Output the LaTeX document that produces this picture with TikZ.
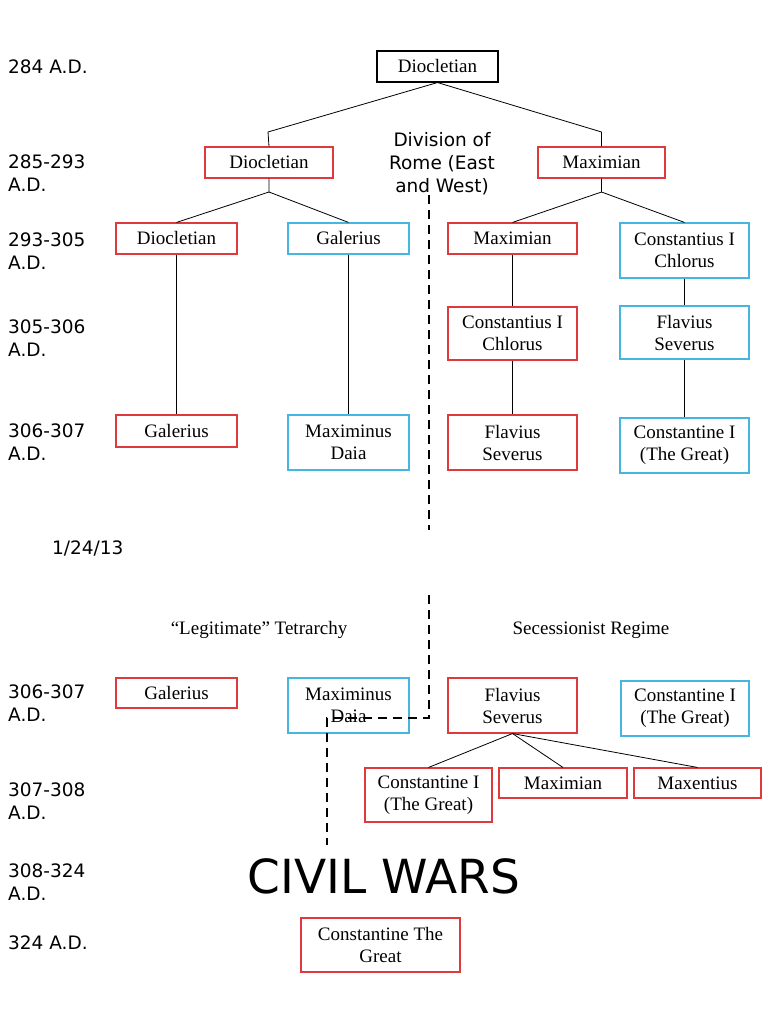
\documentclass[tikz,border=0pt]{standalone}
\usepackage{fontspec}
\setmainfont{Liberation Serif}
\newfontfamily\dejavu{DejaVu Sans}
\definecolor{redb}{RGB}{222,58,62}
\definecolor{cyanb}{RGB}{70,182,222}
\tikzset{
  box/.style={draw, line width=1.1pt, inner sep=0pt, align=center,
    font=\fontsize{19}{22}\selectfont},
  rbox/.style={box, draw=redb},
  cbox/.style={box, draw=cyanb},
  kbox/.style={box, draw=black},
  yr/.style={anchor=west, inner sep=0pt, align=left,
    font=\dejavu\fontsize{18.5}{23}\selectfont},
  conn/.style={draw=black, line width=0.8pt},
  dline/.style={draw=black, line width=1.8pt, dash pattern=on 9pt off 6pt},
  lbl/.style={inner sep=0pt, align=center, font=\fontsize{19}{22}\selectfont}
}
\begin{document}
\begin{tikzpicture}[x=1pt,y=-1pt]
\useasboundingbox[fill=white] (0,0) rectangle (768,1024);

% year labels
\node[yr] (y1) at (8,67) {284 A.D.};
\node[yr] (y2) at (8,173.5) {285-293\\A.D.};
\node[yr] (y3) at (8,251) {293-305\\A.D.};
\node[yr] (y4) at (8,338.5) {305-306\\A.D.};
\node[yr] (y5) at (8,442.5) {306-307\\A.D.};
\node[yr] (date) at (52,548) {1/24/13};
\node[yr] (y6) at (8,703) {306-307\\A.D.};
\node[yr] (y7) at (8,801) {307-308\\A.D.};
\node[yr] (y8) at (8,882.5) {308-324\\A.D.};
\node[yr] (y9) at (8,943) {324 A.D.};

% division text
\node[inner sep=0pt, align=center, font=\dejavu\fontsize{18.5}{23}\selectfont] (div) at (442,164) {Division of\\Rome (East\\and West)};

% upper tree
\node[kbox, minimum width=121pt, minimum height=31pt] (top) at (437.5,66.5) {Diocletian};
\node[rbox, minimum width=128pt, minimum height=31pt] (d2) at (269,162.5) {Diocletian};
\node[rbox, minimum width=127pt, minimum height=31pt] (m2) at (601.5,162.5) {Maximian};

\node[rbox, minimum width=121pt, minimum height=31pt] (d3) at (176.5,238.5) {Diocletian};
\node[cbox, minimum width=121pt, minimum height=31pt] (g3) at (348.5,238.5) {Galerius};
\node[rbox, minimum width=129pt, minimum height=31pt] (m3) at (512.5,238.5) {Maximian};
\node[cbox, minimum width=129pt, minimum height=55pt] (c3) at (684.5,250.5) {Constantius I\\Chlorus};

\node[rbox, minimum width=129pt, minimum height=53pt] (c4) at (512.5,333.5) {Constantius I\\Chlorus};
\node[cbox, minimum width=129pt, minimum height=53pt] (f4) at (684.5,332.5) {Flavius\\Severus};

\node[rbox, minimum width=121pt, minimum height=32pt] (g5) at (176.5,431) {Galerius};
\node[cbox, minimum width=121pt, minimum height=55pt] (md5) at (348.5,442.5) {Maximinus\\Daia};
\node[rbox, minimum width=129pt, minimum height=55pt] (f5) at (512.5,442.5) {Flavius\\Severus};
\node[cbox, minimum width=129pt, minimum height=55pt] (cg5) at (684.5,445.5) {Constantine I\\(The Great)};

% upper connectors
\coordinate (k1) at (268,132);
\coordinate (k2) at (601.5,132);
\coordinate (k3) at (269,192);
\coordinate (k4) at (601.5,192);
\draw[conn] (top.south) -- (k1) -- (d2.north);
\draw[conn] (top.south) -- (k2) -- (m2.north);
\draw[conn] (d2.south) -- (k3) -- (d3.north);
\draw[conn] (k3) -- (g3.north);
\draw[conn] (m2.south) -- (k4) -- (m3.north);
\draw[conn] (k4) -- (c3.north);
\draw[conn] (d3.south) -- (g5.north);
\draw[conn] (g3.south) -- (md5.north);
\draw[conn] (m3.south) -- (c4.north);
\draw[conn] (c4.south) -- (f5.north);
\draw[conn] (c3.south) -- (f4.north);
\draw[conn] (f4.south) -- (cg5.north);

% lower section
\node[lbl] (legit) at (259,630) {“Legitimate” Tetrarchy};
\node[lbl] (secess) at (591,630) {Secessionist Regime};

\node[rbox, minimum width=121pt, minimum height=30pt] (g6) at (176.5,693) {Galerius};
\node[cbox, minimum width=121pt, minimum height=55pt] (md6) at (348.5,705.5) {Maximinus\\Daia};
\node[rbox, minimum width=129pt, minimum height=55pt] (f6) at (512.5,705.5) {Flavius\\Severus};
\node[cbox, minimum width=128pt, minimum height=55pt] (cg6) at (685,708.5) {Constantine I\\(The Great)};

\node[rbox, minimum width=127pt, minimum height=54pt] (cg7) at (428.5,795) {Constantine I\\(The Great)};
\node[rbox, minimum width=128pt, minimum height=30pt] (m7) at (563,783) {Maximian};
\node[rbox, minimum width=127pt, minimum height=30pt] (mx7) at (697.5,783) {Maxentius};

\draw[conn] (f6.south) -- (cg7.north);
\draw[conn] (f6.south) -- (m7.north);
\draw[conn] (f6.south) -- (mx7.north);

\node[inner sep=0pt, font=\dejavu\fontsize{47}{52}\selectfont] (civil) at (384,876) {CIVIL WARS};

\node[rbox, minimum width=159pt, minimum height=54pt] (final) at (380.5,945) {Constantine The\\Great};

% dashed division line
\coordinate (da) at (429,195);
\coordinate (db) at (429,530);
\coordinate (dc) at (429,595);
\coordinate (dd) at (429,718);
\coordinate (de) at (327,718);
\coordinate (df) at (327,845);
\draw[dline] (da) -- (db);
\draw[dline] (dc) -- (dd) -- (de) -- (df);
\end{tikzpicture}
\end{document}
